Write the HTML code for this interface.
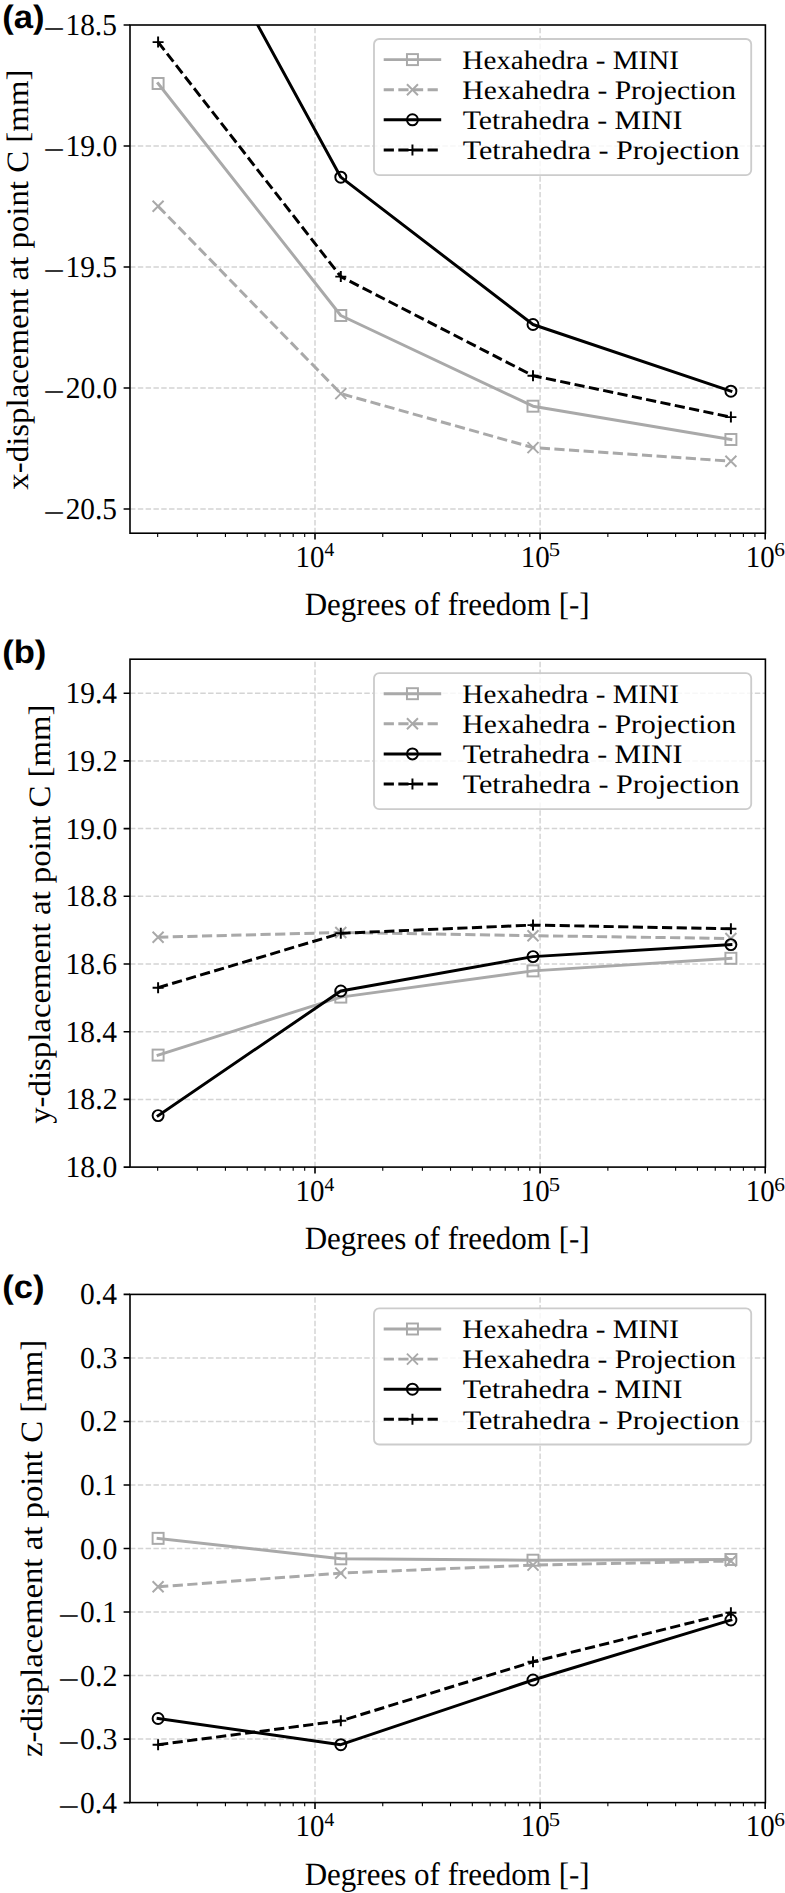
<!DOCTYPE html>
<html><head><meta charset="utf-8"><title>Displacement at point C vs degrees of freedom</title><style>html,body{margin:0;padding:0;background:#fff;overflow:hidden}svg{display:block}text{text-rendering:geometricPrecision}</style></head><body>
<svg width="785" height="1893" viewBox="0 0 785 1893">
<rect width="785" height="1893" fill="#fff"/>
<defs><clipPath id="clip0"><rect x="130.0" y="25.0" width="635.4" height="508.20000000000005"/></clipPath></defs>
<path d="M130.0,146.00H765.4 M130.0,267.00H765.4 M130.0,388.00H765.4 M130.0,509.00H765.4 M315.00,533.2V25.0 M540.10,533.2V25.0" stroke="#d4d4d4" stroke-width="1.47" stroke-dasharray="5.45,2.36" fill="none"/>
<g clip-path="url(#clip0)">
<path d="M158.10,83.50 L340.80,315.50 L533.00,406.20 L730.90,439.50" stroke="#a9a9a9" stroke-width="2.95" fill="none" stroke-linejoin="round" stroke-linecap="square"/>
<rect x="152.60" y="78.00" width="11.00" height="11.00" fill="none" stroke="#a9a9a9" stroke-width="1.95"/>
<rect x="335.30" y="310.00" width="11.00" height="11.00" fill="none" stroke="#a9a9a9" stroke-width="1.95"/>
<rect x="527.50" y="400.70" width="11.00" height="11.00" fill="none" stroke="#a9a9a9" stroke-width="1.95"/>
<rect x="725.40" y="434.00" width="11.00" height="11.00" fill="none" stroke="#a9a9a9" stroke-width="1.95"/>
<path d="M158.10,206.20 L340.80,393.60 L533.00,447.60 L730.90,461.20" stroke="#a9a9a9" stroke-width="2.95" fill="none" stroke-linejoin="round" stroke-dasharray="10.21,4.42" stroke-linecap="butt"/>
<path d="M152.60,200.70L163.60,211.70M152.60,211.70L163.60,200.70" stroke="#a9a9a9" stroke-width="1.95" fill="none"/>
<path d="M335.30,388.10L346.30,399.10M335.30,399.10L346.30,388.10" stroke="#a9a9a9" stroke-width="1.95" fill="none"/>
<path d="M527.50,442.10L538.50,453.10M527.50,453.10L538.50,442.10" stroke="#a9a9a9" stroke-width="1.95" fill="none"/>
<path d="M725.40,455.70L736.40,466.70M725.40,466.70L736.40,455.70" stroke="#a9a9a9" stroke-width="1.95" fill="none"/>
<path d="M158.10,-157.20 L340.80,177.20 L533.00,324.50 L730.90,391.20" stroke="#000" stroke-width="2.95" fill="none" stroke-linejoin="round" stroke-linecap="square"/>
<circle cx="158.10" cy="-157.20" r="5.50" fill="none" stroke="#000" stroke-width="1.95"/>
<circle cx="340.80" cy="177.20" r="5.50" fill="none" stroke="#000" stroke-width="1.95"/>
<circle cx="533.00" cy="324.50" r="5.50" fill="none" stroke="#000" stroke-width="1.95"/>
<circle cx="730.90" cy="391.20" r="5.50" fill="none" stroke="#000" stroke-width="1.95"/>
<path d="M158.10,42.10 L340.80,276.60 L533.00,375.70 L730.90,417.10" stroke="#000" stroke-width="2.95" fill="none" stroke-linejoin="round" stroke-dasharray="10.21,4.42" stroke-linecap="butt"/>
<path d="M152.60,42.10L163.60,42.10M158.10,36.60L158.10,47.60" stroke="#000" stroke-width="1.95" fill="none"/>
<path d="M335.30,276.60L346.30,276.60M340.80,271.10L340.80,282.10" stroke="#000" stroke-width="1.95" fill="none"/>
<path d="M527.50,375.70L538.50,375.70M533.00,370.20L533.00,381.20" stroke="#000" stroke-width="1.95" fill="none"/>
<path d="M725.40,417.10L736.40,417.10M730.90,411.60L730.90,422.60" stroke="#000" stroke-width="1.95" fill="none"/>
</g>
<rect x="374.0" y="39.0" width="377.20" height="136.10" rx="5.2" ry="5.2" fill="#fff" fill-opacity="0.8" stroke="#cccccc" stroke-width="1.84"/>
<path d="M383.7,59.60H441.2" stroke="#a9a9a9" stroke-width="2.95" fill="none"/>
<rect x="406.95" y="54.10" width="11.00" height="11.00" fill="none" stroke="#a9a9a9" stroke-width="1.95"/>
<text x="462.36" y="68.70" font-size="26.80" textLength="216.56" lengthAdjust="spacingAndGlyphs" font-family='"Liberation Serif", serif' font-weight="normal" fill="#000">Hexahedra - MINI</text>
<path d="M383.7,89.70H441.2" stroke="#a9a9a9" stroke-width="2.95" stroke-dasharray="10.21,4.42" fill="none"/>
<path d="M406.95,84.20L417.95,95.20M406.95,95.20L417.95,84.20" stroke="#a9a9a9" stroke-width="1.95" fill="none"/>
<text x="462.35" y="98.85" font-size="26.80" textLength="273.60" lengthAdjust="spacingAndGlyphs" font-family='"Liberation Serif", serif' font-weight="normal" fill="#000">Hexahedra - Projection</text>
<path d="M383.7,119.80H441.2" stroke="#000" stroke-width="2.95" fill="none"/>
<circle cx="412.45" cy="119.80" r="5.50" fill="none" stroke="#000" stroke-width="1.95"/>
<text x="462.67" y="129.00" font-size="26.80" textLength="219.87" lengthAdjust="spacingAndGlyphs" font-family='"Liberation Serif", serif' font-weight="normal" fill="#000">Tetrahedra - MINI</text>
<path d="M383.7,149.90H441.2" stroke="#000" stroke-width="2.95" stroke-dasharray="10.21,4.42" fill="none"/>
<path d="M406.95,149.90L417.95,149.90M412.45,144.40L412.45,155.40" stroke="#000" stroke-width="1.95" fill="none"/>
<text x="462.66" y="159.15" font-size="26.80" textLength="276.99" lengthAdjust="spacingAndGlyphs" font-family='"Liberation Serif", serif' font-weight="normal" fill="#000">Tetrahedra - Projection</text>
<rect x="130.0" y="25.0" width="635.40" height="508.20" fill="none" stroke="#000" stroke-width="1.6" stroke-linejoin="miter"/>
<path d="M123.60,25.00H130.0 M123.60,146.00H130.0 M123.60,267.00H130.0 M123.60,388.00H130.0 M123.60,509.00H130.0 M315.00,533.2V539.60 M540.10,533.2V539.60 M765.20,533.2V539.60" stroke="#000" stroke-width="1.6" fill="none"/>
<path d="M157.66,533.2V536.90 M197.30,533.2V536.90 M225.42,533.2V536.90 M247.24,533.2V536.90 M265.06,533.2V536.90 M280.13,533.2V536.90 M293.19,533.2V536.90 M304.70,533.2V536.90 M382.76,533.2V536.90 M422.40,533.2V536.90 M450.52,533.2V536.90 M472.34,533.2V536.90 M490.16,533.2V536.90 M505.23,533.2V536.90 M518.29,533.2V536.90 M529.80,533.2V536.90 M607.86,533.2V536.90 M647.50,533.2V536.90 M675.62,533.2V536.90 M697.44,533.2V536.90 M715.26,533.2V536.90 M730.33,533.2V536.90 M743.39,533.2V536.90 M754.90,533.2V536.90" stroke="#000" stroke-width="1.1" fill="none"/>
<text x="65.44" y="35.00" font-size="30.40" textLength="51.48" lengthAdjust="spacingAndGlyphs" font-family='"Liberation Serif", serif' font-weight="normal" fill="#000">18.5</text>
<text x="43.31" y="39.40" font-size="30.40" textLength="21.59" lengthAdjust="spacingAndGlyphs" font-family='"Liberation Serif", serif' font-weight="normal" fill="#000">−</text>
<text x="65.41" y="156.00" font-size="30.40" textLength="51.95" lengthAdjust="spacingAndGlyphs" font-family='"Liberation Serif", serif' font-weight="normal" fill="#000">19.0</text>
<text x="43.31" y="160.40" font-size="30.40" textLength="21.59" lengthAdjust="spacingAndGlyphs" font-family='"Liberation Serif", serif' font-weight="normal" fill="#000">−</text>
<text x="65.44" y="277.00" font-size="30.40" textLength="51.48" lengthAdjust="spacingAndGlyphs" font-family='"Liberation Serif", serif' font-weight="normal" fill="#000">19.5</text>
<text x="43.31" y="281.40" font-size="30.40" textLength="21.59" lengthAdjust="spacingAndGlyphs" font-family='"Liberation Serif", serif' font-weight="normal" fill="#000">−</text>
<text x="65.64" y="398.00" font-size="30.40" textLength="51.71" lengthAdjust="spacingAndGlyphs" font-family='"Liberation Serif", serif' font-weight="normal" fill="#000">20.0</text>
<text x="43.31" y="402.40" font-size="30.40" textLength="21.59" lengthAdjust="spacingAndGlyphs" font-family='"Liberation Serif", serif' font-weight="normal" fill="#000">−</text>
<text x="65.66" y="519.00" font-size="30.40" textLength="51.25" lengthAdjust="spacingAndGlyphs" font-family='"Liberation Serif", serif' font-weight="normal" fill="#000">20.5</text>
<text x="43.31" y="523.40" font-size="30.40" textLength="21.59" lengthAdjust="spacingAndGlyphs" font-family='"Liberation Serif", serif' font-weight="normal" fill="#000">−</text>
<text x="295.56" y="566.80" font-size="30.40" textLength="28.95" lengthAdjust="spacingAndGlyphs" font-family='"Liberation Serif", serif' font-weight="normal" fill="#000">10</text>
<text x="324.62" y="556.40" font-size="19.80" textLength="9.79" lengthAdjust="spacingAndGlyphs" font-family='"Liberation Serif", serif' font-weight="normal" fill="#000">4</text>
<text x="520.66" y="566.80" font-size="30.40" textLength="28.95" lengthAdjust="spacingAndGlyphs" font-family='"Liberation Serif", serif' font-weight="normal" fill="#000">10</text>
<text x="548.79" y="556.40" font-size="19.80" textLength="11.30" lengthAdjust="spacingAndGlyphs" font-family='"Liberation Serif", serif' font-weight="normal" fill="#000">5</text>
<text x="745.76" y="566.80" font-size="30.40" textLength="28.95" lengthAdjust="spacingAndGlyphs" font-family='"Liberation Serif", serif' font-weight="normal" fill="#000">10</text>
<text x="774.28" y="556.40" font-size="19.80" textLength="10.65" lengthAdjust="spacingAndGlyphs" font-family='"Liberation Serif", serif' font-weight="normal" fill="#000">6</text>
<text x="304.71" y="615.20" font-size="32.50" textLength="285.00" lengthAdjust="spacingAndGlyphs" font-family='"Liberation Serif", serif' font-weight="normal" fill="#000">Degrees of freedom [-]</text>
<text transform="translate(27.80,489.69) rotate(-90)" x="0" y="0" font-size="31.00" textLength="420.13" lengthAdjust="spacingAndGlyphs" font-family='"Liberation Serif", serif'>x-displacement at point C [mm]</text>
<text x="2.17" y="27.80" font-size="32.60" textLength="42.35" lengthAdjust="spacingAndGlyphs" font-family='"Liberation Sans", sans-serif' font-weight="bold" fill="#000">(a)</text>
<defs><clipPath id="clip1"><rect x="130.0" y="659.2" width="635.4" height="507.89999999999986"/></clipPath></defs>
<path d="M130.0,1099.40H765.4 M130.0,1031.70H765.4 M130.0,964.00H765.4 M130.0,896.30H765.4 M130.0,828.60H765.4 M130.0,760.90H765.4 M130.0,693.20H765.4 M315.00,1167.1V659.2 M540.10,1167.1V659.2" stroke="#d4d4d4" stroke-width="1.47" stroke-dasharray="5.45,2.36" fill="none"/>
<g clip-path="url(#clip1)">
<path d="M158.10,1055.10 L340.80,997.10 L533.00,970.90 L730.90,958.30" stroke="#a9a9a9" stroke-width="2.95" fill="none" stroke-linejoin="round" stroke-linecap="square"/>
<rect x="152.60" y="1049.60" width="11.00" height="11.00" fill="none" stroke="#a9a9a9" stroke-width="1.95"/>
<rect x="335.30" y="991.60" width="11.00" height="11.00" fill="none" stroke="#a9a9a9" stroke-width="1.95"/>
<rect x="527.50" y="965.40" width="11.00" height="11.00" fill="none" stroke="#a9a9a9" stroke-width="1.95"/>
<rect x="725.40" y="952.80" width="11.00" height="11.00" fill="none" stroke="#a9a9a9" stroke-width="1.95"/>
<path d="M158.10,937.20 L340.80,932.50 L533.00,935.70 L730.90,938.50" stroke="#a9a9a9" stroke-width="2.95" fill="none" stroke-linejoin="round" stroke-dasharray="10.21,4.42" stroke-linecap="butt"/>
<path d="M152.60,931.70L163.60,942.70M152.60,942.70L163.60,931.70" stroke="#a9a9a9" stroke-width="1.95" fill="none"/>
<path d="M335.30,927.00L346.30,938.00M335.30,938.00L346.30,927.00" stroke="#a9a9a9" stroke-width="1.95" fill="none"/>
<path d="M527.50,930.20L538.50,941.20M527.50,941.20L538.50,930.20" stroke="#a9a9a9" stroke-width="1.95" fill="none"/>
<path d="M725.40,933.00L736.40,944.00M725.40,944.00L736.40,933.00" stroke="#a9a9a9" stroke-width="1.95" fill="none"/>
<path d="M158.10,1115.60 L340.80,991.00 L533.00,956.60 L730.90,944.60" stroke="#000" stroke-width="2.95" fill="none" stroke-linejoin="round" stroke-linecap="square"/>
<circle cx="158.10" cy="1115.60" r="5.50" fill="none" stroke="#000" stroke-width="1.95"/>
<circle cx="340.80" cy="991.00" r="5.50" fill="none" stroke="#000" stroke-width="1.95"/>
<circle cx="533.00" cy="956.60" r="5.50" fill="none" stroke="#000" stroke-width="1.95"/>
<circle cx="730.90" cy="944.60" r="5.50" fill="none" stroke="#000" stroke-width="1.95"/>
<path d="M158.10,987.70 L340.80,933.30 L533.00,925.10 L730.90,928.80" stroke="#000" stroke-width="2.95" fill="none" stroke-linejoin="round" stroke-dasharray="10.21,4.42" stroke-linecap="butt"/>
<path d="M152.60,987.70L163.60,987.70M158.10,982.20L158.10,993.20" stroke="#000" stroke-width="1.95" fill="none"/>
<path d="M335.30,933.30L346.30,933.30M340.80,927.80L340.80,938.80" stroke="#000" stroke-width="1.95" fill="none"/>
<path d="M527.50,925.10L538.50,925.10M533.00,919.60L533.00,930.60" stroke="#000" stroke-width="1.95" fill="none"/>
<path d="M725.40,928.80L736.40,928.80M730.90,923.30L730.90,934.30" stroke="#000" stroke-width="1.95" fill="none"/>
</g>
<rect x="374.0" y="673.1" width="377.20" height="136.10" rx="5.2" ry="5.2" fill="#fff" fill-opacity="0.8" stroke="#cccccc" stroke-width="1.84"/>
<path d="M383.7,693.70H441.2" stroke="#a9a9a9" stroke-width="2.95" fill="none"/>
<rect x="406.95" y="688.20" width="11.00" height="11.00" fill="none" stroke="#a9a9a9" stroke-width="1.95"/>
<text x="462.36" y="702.80" font-size="26.80" textLength="216.56" lengthAdjust="spacingAndGlyphs" font-family='"Liberation Serif", serif' font-weight="normal" fill="#000">Hexahedra - MINI</text>
<path d="M383.7,723.80H441.2" stroke="#a9a9a9" stroke-width="2.95" stroke-dasharray="10.21,4.42" fill="none"/>
<path d="M406.95,718.30L417.95,729.30M406.95,729.30L417.95,718.30" stroke="#a9a9a9" stroke-width="1.95" fill="none"/>
<text x="462.35" y="732.95" font-size="26.80" textLength="273.60" lengthAdjust="spacingAndGlyphs" font-family='"Liberation Serif", serif' font-weight="normal" fill="#000">Hexahedra - Projection</text>
<path d="M383.7,753.90H441.2" stroke="#000" stroke-width="2.95" fill="none"/>
<circle cx="412.45" cy="753.90" r="5.50" fill="none" stroke="#000" stroke-width="1.95"/>
<text x="462.67" y="763.10" font-size="26.80" textLength="219.87" lengthAdjust="spacingAndGlyphs" font-family='"Liberation Serif", serif' font-weight="normal" fill="#000">Tetrahedra - MINI</text>
<path d="M383.7,784.00H441.2" stroke="#000" stroke-width="2.95" stroke-dasharray="10.21,4.42" fill="none"/>
<path d="M406.95,784.00L417.95,784.00M412.45,778.50L412.45,789.50" stroke="#000" stroke-width="1.95" fill="none"/>
<text x="462.66" y="793.25" font-size="26.80" textLength="276.99" lengthAdjust="spacingAndGlyphs" font-family='"Liberation Serif", serif' font-weight="normal" fill="#000">Tetrahedra - Projection</text>
<rect x="130.0" y="659.2" width="635.40" height="507.90" fill="none" stroke="#000" stroke-width="1.6" stroke-linejoin="miter"/>
<path d="M123.60,1167.10H130.0 M123.60,1099.40H130.0 M123.60,1031.70H130.0 M123.60,964.00H130.0 M123.60,896.30H130.0 M123.60,828.60H130.0 M123.60,760.90H130.0 M123.60,693.20H130.0 M315.00,1167.1V1173.50 M540.10,1167.1V1173.50 M765.20,1167.1V1173.50" stroke="#000" stroke-width="1.6" fill="none"/>
<path d="M157.66,1167.1V1170.80 M197.30,1167.1V1170.80 M225.42,1167.1V1170.80 M247.24,1167.1V1170.80 M265.06,1167.1V1170.80 M280.13,1167.1V1170.80 M293.19,1167.1V1170.80 M304.70,1167.1V1170.80 M382.76,1167.1V1170.80 M422.40,1167.1V1170.80 M450.52,1167.1V1170.80 M472.34,1167.1V1170.80 M490.16,1167.1V1170.80 M505.23,1167.1V1170.80 M518.29,1167.1V1170.80 M529.80,1167.1V1170.80 M607.86,1167.1V1170.80 M647.50,1167.1V1170.80 M675.62,1167.1V1170.80 M697.44,1167.1V1170.80 M715.26,1167.1V1170.80 M730.33,1167.1V1170.80 M743.39,1167.1V1170.80 M754.90,1167.1V1170.80" stroke="#000" stroke-width="1.1" fill="none"/>
<text x="65.41" y="1177.10" font-size="30.40" textLength="51.95" lengthAdjust="spacingAndGlyphs" font-family='"Liberation Serif", serif' font-weight="normal" fill="#000">18.0</text>
<text x="65.40" y="1109.40" font-size="30.40" textLength="52.15" lengthAdjust="spacingAndGlyphs" font-family='"Liberation Serif", serif' font-weight="normal" fill="#000">18.2</text>
<text x="65.43" y="1041.70" font-size="30.40" textLength="51.58" lengthAdjust="spacingAndGlyphs" font-family='"Liberation Serif", serif' font-weight="normal" fill="#000">18.4</text>
<text x="65.43" y="974.00" font-size="30.40" textLength="51.59" lengthAdjust="spacingAndGlyphs" font-family='"Liberation Serif", serif' font-weight="normal" fill="#000">18.6</text>
<text x="65.42" y="906.30" font-size="30.40" textLength="51.85" lengthAdjust="spacingAndGlyphs" font-family='"Liberation Serif", serif' font-weight="normal" fill="#000">18.8</text>
<text x="65.41" y="838.60" font-size="30.40" textLength="51.95" lengthAdjust="spacingAndGlyphs" font-family='"Liberation Serif", serif' font-weight="normal" fill="#000">19.0</text>
<text x="65.40" y="770.90" font-size="30.40" textLength="52.15" lengthAdjust="spacingAndGlyphs" font-family='"Liberation Serif", serif' font-weight="normal" fill="#000">19.2</text>
<text x="65.43" y="703.20" font-size="30.40" textLength="51.58" lengthAdjust="spacingAndGlyphs" font-family='"Liberation Serif", serif' font-weight="normal" fill="#000">19.4</text>
<text x="295.56" y="1200.90" font-size="30.40" textLength="28.95" lengthAdjust="spacingAndGlyphs" font-family='"Liberation Serif", serif' font-weight="normal" fill="#000">10</text>
<text x="324.62" y="1190.50" font-size="19.80" textLength="9.79" lengthAdjust="spacingAndGlyphs" font-family='"Liberation Serif", serif' font-weight="normal" fill="#000">4</text>
<text x="520.66" y="1200.90" font-size="30.40" textLength="28.95" lengthAdjust="spacingAndGlyphs" font-family='"Liberation Serif", serif' font-weight="normal" fill="#000">10</text>
<text x="548.79" y="1190.50" font-size="19.80" textLength="11.30" lengthAdjust="spacingAndGlyphs" font-family='"Liberation Serif", serif' font-weight="normal" fill="#000">5</text>
<text x="745.76" y="1200.90" font-size="30.40" textLength="28.95" lengthAdjust="spacingAndGlyphs" font-family='"Liberation Serif", serif' font-weight="normal" fill="#000">10</text>
<text x="774.28" y="1190.50" font-size="19.80" textLength="10.65" lengthAdjust="spacingAndGlyphs" font-family='"Liberation Serif", serif' font-weight="normal" fill="#000">6</text>
<text x="304.71" y="1249.30" font-size="32.50" textLength="285.00" lengthAdjust="spacingAndGlyphs" font-family='"Liberation Serif", serif' font-weight="normal" fill="#000">Degrees of freedom [-]</text>
<text transform="translate(49.80,1123.80) rotate(-90)" x="0" y="0" font-size="31.00" textLength="419.24" lengthAdjust="spacingAndGlyphs" font-family='"Liberation Serif", serif'>y-displacement at point C [mm]</text>
<text x="2.17" y="662.50" font-size="32.60" textLength="44.25" lengthAdjust="spacingAndGlyphs" font-family='"Liberation Sans", sans-serif' font-weight="bold" fill="#000">(b)</text>
<defs><clipPath id="clip2"><rect x="130.0" y="1294.4" width="635.4" height="508.1999999999998"/></clipPath></defs>
<path d="M130.0,1739.08H765.4 M130.0,1675.55H765.4 M130.0,1612.03H765.4 M130.0,1548.50H765.4 M130.0,1484.97H765.4 M130.0,1421.45H765.4 M130.0,1357.92H765.4 M315.00,1802.6V1294.4 M540.10,1802.6V1294.4" stroke="#d4d4d4" stroke-width="1.47" stroke-dasharray="5.45,2.36" fill="none"/>
<g clip-path="url(#clip2)">
<path d="M158.10,1538.35 L340.80,1558.80 L533.00,1560.20 L730.90,1559.50" stroke="#a9a9a9" stroke-width="2.95" fill="none" stroke-linejoin="round" stroke-linecap="square"/>
<rect x="152.60" y="1532.85" width="11.00" height="11.00" fill="none" stroke="#a9a9a9" stroke-width="1.95"/>
<rect x="335.30" y="1553.30" width="11.00" height="11.00" fill="none" stroke="#a9a9a9" stroke-width="1.95"/>
<rect x="527.50" y="1554.70" width="11.00" height="11.00" fill="none" stroke="#a9a9a9" stroke-width="1.95"/>
<rect x="725.40" y="1554.00" width="11.00" height="11.00" fill="none" stroke="#a9a9a9" stroke-width="1.95"/>
<path d="M158.10,1586.80 L340.80,1573.10 L533.00,1565.10 L730.90,1561.00" stroke="#a9a9a9" stroke-width="2.95" fill="none" stroke-linejoin="round" stroke-dasharray="10.21,4.42" stroke-linecap="butt"/>
<path d="M152.60,1581.30L163.60,1592.30M152.60,1592.30L163.60,1581.30" stroke="#a9a9a9" stroke-width="1.95" fill="none"/>
<path d="M335.30,1567.60L346.30,1578.60M335.30,1578.60L346.30,1567.60" stroke="#a9a9a9" stroke-width="1.95" fill="none"/>
<path d="M527.50,1559.60L538.50,1570.60M527.50,1570.60L538.50,1559.60" stroke="#a9a9a9" stroke-width="1.95" fill="none"/>
<path d="M725.40,1555.50L736.40,1566.50M725.40,1566.50L736.40,1555.50" stroke="#a9a9a9" stroke-width="1.95" fill="none"/>
<path d="M158.10,1718.50 L340.80,1744.70 L533.00,1680.00 L730.90,1620.00" stroke="#000" stroke-width="2.95" fill="none" stroke-linejoin="round" stroke-linecap="square"/>
<circle cx="158.10" cy="1718.50" r="5.50" fill="none" stroke="#000" stroke-width="1.95"/>
<circle cx="340.80" cy="1744.70" r="5.50" fill="none" stroke="#000" stroke-width="1.95"/>
<circle cx="533.00" cy="1680.00" r="5.50" fill="none" stroke="#000" stroke-width="1.95"/>
<circle cx="730.90" cy="1620.00" r="5.50" fill="none" stroke="#000" stroke-width="1.95"/>
<path d="M158.10,1744.70 L340.80,1720.80 L533.00,1661.80 L730.90,1612.80" stroke="#000" stroke-width="2.95" fill="none" stroke-linejoin="round" stroke-dasharray="10.21,4.42" stroke-linecap="butt"/>
<path d="M152.60,1744.70L163.60,1744.70M158.10,1739.20L158.10,1750.20" stroke="#000" stroke-width="1.95" fill="none"/>
<path d="M335.30,1720.80L346.30,1720.80M340.80,1715.30L340.80,1726.30" stroke="#000" stroke-width="1.95" fill="none"/>
<path d="M527.50,1661.80L538.50,1661.80M533.00,1656.30L533.00,1667.30" stroke="#000" stroke-width="1.95" fill="none"/>
<path d="M725.40,1612.80L736.40,1612.80M730.90,1607.30L730.90,1618.30" stroke="#000" stroke-width="1.95" fill="none"/>
</g>
<rect x="374.0" y="1308.4" width="377.20" height="136.10" rx="5.2" ry="5.2" fill="#fff" fill-opacity="0.8" stroke="#cccccc" stroke-width="1.84"/>
<path d="M383.7,1329.00H441.2" stroke="#a9a9a9" stroke-width="2.95" fill="none"/>
<rect x="406.95" y="1323.50" width="11.00" height="11.00" fill="none" stroke="#a9a9a9" stroke-width="1.95"/>
<text x="462.36" y="1338.10" font-size="26.80" textLength="216.56" lengthAdjust="spacingAndGlyphs" font-family='"Liberation Serif", serif' font-weight="normal" fill="#000">Hexahedra - MINI</text>
<path d="M383.7,1359.10H441.2" stroke="#a9a9a9" stroke-width="2.95" stroke-dasharray="10.21,4.42" fill="none"/>
<path d="M406.95,1353.60L417.95,1364.60M406.95,1364.60L417.95,1353.60" stroke="#a9a9a9" stroke-width="1.95" fill="none"/>
<text x="462.35" y="1368.25" font-size="26.80" textLength="273.60" lengthAdjust="spacingAndGlyphs" font-family='"Liberation Serif", serif' font-weight="normal" fill="#000">Hexahedra - Projection</text>
<path d="M383.7,1389.20H441.2" stroke="#000" stroke-width="2.95" fill="none"/>
<circle cx="412.45" cy="1389.20" r="5.50" fill="none" stroke="#000" stroke-width="1.95"/>
<text x="462.67" y="1398.40" font-size="26.80" textLength="219.87" lengthAdjust="spacingAndGlyphs" font-family='"Liberation Serif", serif' font-weight="normal" fill="#000">Tetrahedra - MINI</text>
<path d="M383.7,1419.30H441.2" stroke="#000" stroke-width="2.95" stroke-dasharray="10.21,4.42" fill="none"/>
<path d="M406.95,1419.30L417.95,1419.30M412.45,1413.80L412.45,1424.80" stroke="#000" stroke-width="1.95" fill="none"/>
<text x="462.66" y="1428.55" font-size="26.80" textLength="276.99" lengthAdjust="spacingAndGlyphs" font-family='"Liberation Serif", serif' font-weight="normal" fill="#000">Tetrahedra - Projection</text>
<rect x="130.0" y="1294.4" width="635.40" height="508.20" fill="none" stroke="#000" stroke-width="1.6" stroke-linejoin="miter"/>
<path d="M123.60,1802.60H130.0 M123.60,1739.08H130.0 M123.60,1675.55H130.0 M123.60,1612.03H130.0 M123.60,1548.50H130.0 M123.60,1484.97H130.0 M123.60,1421.45H130.0 M123.60,1357.92H130.0 M123.60,1294.40H130.0 M315.00,1802.6V1809.00 M540.10,1802.6V1809.00 M765.20,1802.6V1809.00" stroke="#000" stroke-width="1.6" fill="none"/>
<path d="M157.66,1802.6V1806.30 M197.30,1802.6V1806.30 M225.42,1802.6V1806.30 M247.24,1802.6V1806.30 M265.06,1802.6V1806.30 M280.13,1802.6V1806.30 M293.19,1802.6V1806.30 M304.70,1802.6V1806.30 M382.76,1802.6V1806.30 M422.40,1802.6V1806.30 M450.52,1802.6V1806.30 M472.34,1802.6V1806.30 M490.16,1802.6V1806.30 M505.23,1802.6V1806.30 M518.29,1802.6V1806.30 M529.80,1802.6V1806.30 M607.86,1802.6V1806.30 M647.50,1802.6V1806.30 M675.62,1802.6V1806.30 M697.44,1802.6V1806.30 M715.26,1802.6V1806.30 M730.33,1802.6V1806.30 M743.39,1802.6V1806.30 M754.90,1802.6V1806.30" stroke="#000" stroke-width="1.1" fill="none"/>
<text x="80.10" y="1812.60" font-size="30.40" textLength="36.92" lengthAdjust="spacingAndGlyphs" font-family='"Liberation Serif", serif' font-weight="normal" fill="#000">0.4</text>
<text x="57.91" y="1817.00" font-size="30.40" textLength="21.59" lengthAdjust="spacingAndGlyphs" font-family='"Liberation Serif", serif' font-weight="normal" fill="#000">−</text>
<text x="80.09" y="1749.08" font-size="30.40" textLength="37.22" lengthAdjust="spacingAndGlyphs" font-family='"Liberation Serif", serif' font-weight="normal" fill="#000">0.3</text>
<text x="57.91" y="1753.48" font-size="30.40" textLength="21.59" lengthAdjust="spacingAndGlyphs" font-family='"Liberation Serif", serif' font-weight="normal" fill="#000">−</text>
<text x="80.08" y="1685.55" font-size="30.40" textLength="37.49" lengthAdjust="spacingAndGlyphs" font-family='"Liberation Serif", serif' font-weight="normal" fill="#000">0.2</text>
<text x="57.91" y="1689.95" font-size="30.40" textLength="21.59" lengthAdjust="spacingAndGlyphs" font-family='"Liberation Serif", serif' font-weight="normal" fill="#000">−</text>
<text x="80.10" y="1622.03" font-size="30.40" textLength="36.76" lengthAdjust="spacingAndGlyphs" font-family='"Liberation Serif", serif' font-weight="normal" fill="#000">0.1</text>
<text x="57.91" y="1626.43" font-size="30.40" textLength="21.59" lengthAdjust="spacingAndGlyphs" font-family='"Liberation Serif", serif' font-weight="normal" fill="#000">−</text>
<text x="80.09" y="1558.50" font-size="30.40" textLength="37.28" lengthAdjust="spacingAndGlyphs" font-family='"Liberation Serif", serif' font-weight="normal" fill="#000">0.0</text>
<text x="80.10" y="1494.97" font-size="30.40" textLength="36.76" lengthAdjust="spacingAndGlyphs" font-family='"Liberation Serif", serif' font-weight="normal" fill="#000">0.1</text>
<text x="80.08" y="1431.45" font-size="30.40" textLength="37.49" lengthAdjust="spacingAndGlyphs" font-family='"Liberation Serif", serif' font-weight="normal" fill="#000">0.2</text>
<text x="80.09" y="1367.92" font-size="30.40" textLength="37.22" lengthAdjust="spacingAndGlyphs" font-family='"Liberation Serif", serif' font-weight="normal" fill="#000">0.3</text>
<text x="80.10" y="1304.40" font-size="30.40" textLength="36.92" lengthAdjust="spacingAndGlyphs" font-family='"Liberation Serif", serif' font-weight="normal" fill="#000">0.4</text>
<text x="295.56" y="1836.20" font-size="30.40" textLength="28.95" lengthAdjust="spacingAndGlyphs" font-family='"Liberation Serif", serif' font-weight="normal" fill="#000">10</text>
<text x="324.62" y="1825.80" font-size="19.80" textLength="9.79" lengthAdjust="spacingAndGlyphs" font-family='"Liberation Serif", serif' font-weight="normal" fill="#000">4</text>
<text x="520.66" y="1836.20" font-size="30.40" textLength="28.95" lengthAdjust="spacingAndGlyphs" font-family='"Liberation Serif", serif' font-weight="normal" fill="#000">10</text>
<text x="548.79" y="1825.80" font-size="19.80" textLength="11.30" lengthAdjust="spacingAndGlyphs" font-family='"Liberation Serif", serif' font-weight="normal" fill="#000">5</text>
<text x="745.76" y="1836.20" font-size="30.40" textLength="28.95" lengthAdjust="spacingAndGlyphs" font-family='"Liberation Serif", serif' font-weight="normal" fill="#000">10</text>
<text x="774.28" y="1825.80" font-size="19.80" textLength="10.65" lengthAdjust="spacingAndGlyphs" font-family='"Liberation Serif", serif' font-weight="normal" fill="#000">6</text>
<text x="304.71" y="1884.60" font-size="32.50" textLength="285.00" lengthAdjust="spacingAndGlyphs" font-family='"Liberation Serif", serif' font-weight="normal" fill="#000">Degrees of freedom [-]</text>
<text transform="translate(42.00,1757.08) rotate(-90)" x="0" y="0" font-size="31.00" textLength="417.22" lengthAdjust="spacingAndGlyphs" font-family='"Liberation Serif", serif'>z-displacement at point C [mm]</text>
<text x="2.17" y="1297.50" font-size="32.60" textLength="42.35" lengthAdjust="spacingAndGlyphs" font-family='"Liberation Sans", sans-serif' font-weight="bold" fill="#000">(c)</text>
</svg>
</body></html>
